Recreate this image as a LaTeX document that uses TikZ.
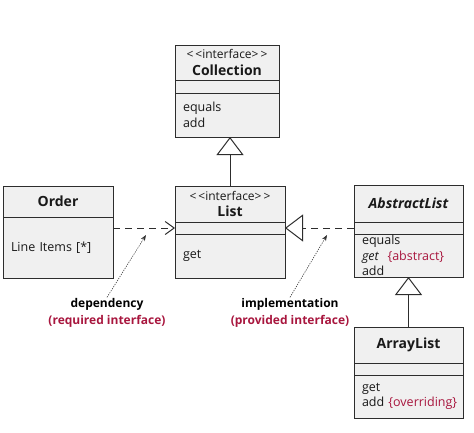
\documentclass[tikz,border=0pt]{standalone}
\usepackage{fontspec}
\setmainfont{Open Sans}
\usetikzlibrary{arrows.meta}
\definecolor{boxfill}{RGB}{240,240,240}
\definecolor{linec}{RGB}{45,45,45}
\definecolor{noteRed}{RGB}{168,22,62}
\newcommand{\bodyfont}{\fontsize{12.5}{15.5}\selectfont}
\newcommand{\stereo}{\fontsize{12}{14}\selectfont <\,<interface>\,>}
\newcommand{\titlefont}{\fontsize{14}{18}\selectfont\bfseries}
\begin{document}
\begin{tikzpicture}[x=1pt,y=-1pt,
  comp/.style={draw=linec, fill=boxfill, line width=1pt, anchor=north west, inner sep=0pt, outer sep=0pt},
  ops/.style={comp, align=left, font=\bodyfont, text=black!90},
  ttl/.style={comp, align=center, text=black!90},
  gen/.style={draw=linec, line width=1pt, -{Triangle[open, length=18pt, width=27pt, line width=1pt]}},
  impl/.style={gen, dash pattern=on 7pt off 5pt},
  dep/.style={draw=linec, line width=1pt, dash pattern=on 7pt off 5pt, -{Straight Barb[length=9pt, width=13pt, line width=1pt]}},
  note/.style={draw=black!80, line width=0.6pt, dash pattern=on 1.2pt off 1.2pt, -{Stealth[length=6pt, width=4.5pt]}},
  lbl/.style={align=center, font=\fontsize{12}{17}\selectfont\bfseries, inner sep=1pt}]
\useasboundingbox (0,0) rectangle (474,432);

% Collection
\node[ttl, minimum width=104pt, minimum height=35pt] (colT) at (175,45) {\stereo\\[4.5pt]\titlefont Collection};
\node[comp, minimum width=104pt, minimum height=13pt] (colA) at (175,80) {};
\node[ops, minimum width=104pt, minimum height=44pt, text width=88pt] (colO) at (175,93) {equals\\add};

% List
\node[ttl, minimum width=110pt, minimum height=36pt] (listT) at (175,186) {\stereo\\[4.5pt]\titlefont List};
\node[comp, minimum width=110pt, minimum height=12pt] (listA) at (175,222) {};
\node[ops, minimum width=110pt, minimum height=44pt, text width=94pt] (listO) at (175,234) {get};

% Order
\node[ttl, minimum width=110pt, minimum height=31pt] (ordT) at (3,186) {\titlefont Order};
\node[ops, minimum width=110pt, minimum height=61pt, text width=94pt] (ordO) at (3,217) {Line Items [*]};

% AbstractList
\node[ttl, minimum width=109pt, minimum height=37pt] (absT) at (354,185) {\titlefont\itshape AbstractList};
\node[comp, minimum width=109pt, minimum height=12pt] (absA) at (354,222) {};
\node[ops, minimum width=109pt, minimum height=43pt, text width=93pt] (absO) at (354,234) {equals\\\mbox{\textit{get}\ \ \textcolor{noteRed}{\{abstract\}}}\\add};

% ArrayList
\node[ttl, minimum width=109pt, minimum height=36pt] (arrT) at (354,327) {\titlefont ArrayList};
\node[comp, minimum width=109pt, minimum height=12pt] (arrA) at (354,363) {};
\node[ops, minimum width=109pt, minimum height=43pt, text width=93pt] (arrO) at (354,375) {get\\\mbox{add \textcolor{noteRed}{\{overriding\}}}};

% connectors
\draw[gen] (listT.north) -- (listT.north |- colO.south);
\draw[impl] (absA.west) -- (listA.east);
\draw[dep] (ordO.east |- listA.west) -- (listA.west);
\draw[gen] (arrT.north) -- (arrT.north |- absO.south);

% notes
\node[lbl] (depL) at (107,313) {dependency\\\textcolor{noteRed}{(required interface)}};
\node[lbl] (implL) at (290,313) {implementation\\\textcolor{noteRed}{(provided interface)}};
\coordinate (depTip) at (146,235);
\coordinate (implTip) at (327,235);
\draw[note] (depL.north) -- (depTip);
\draw[note] (implL.north) -- (implTip);
\end{tikzpicture}
\end{document}
